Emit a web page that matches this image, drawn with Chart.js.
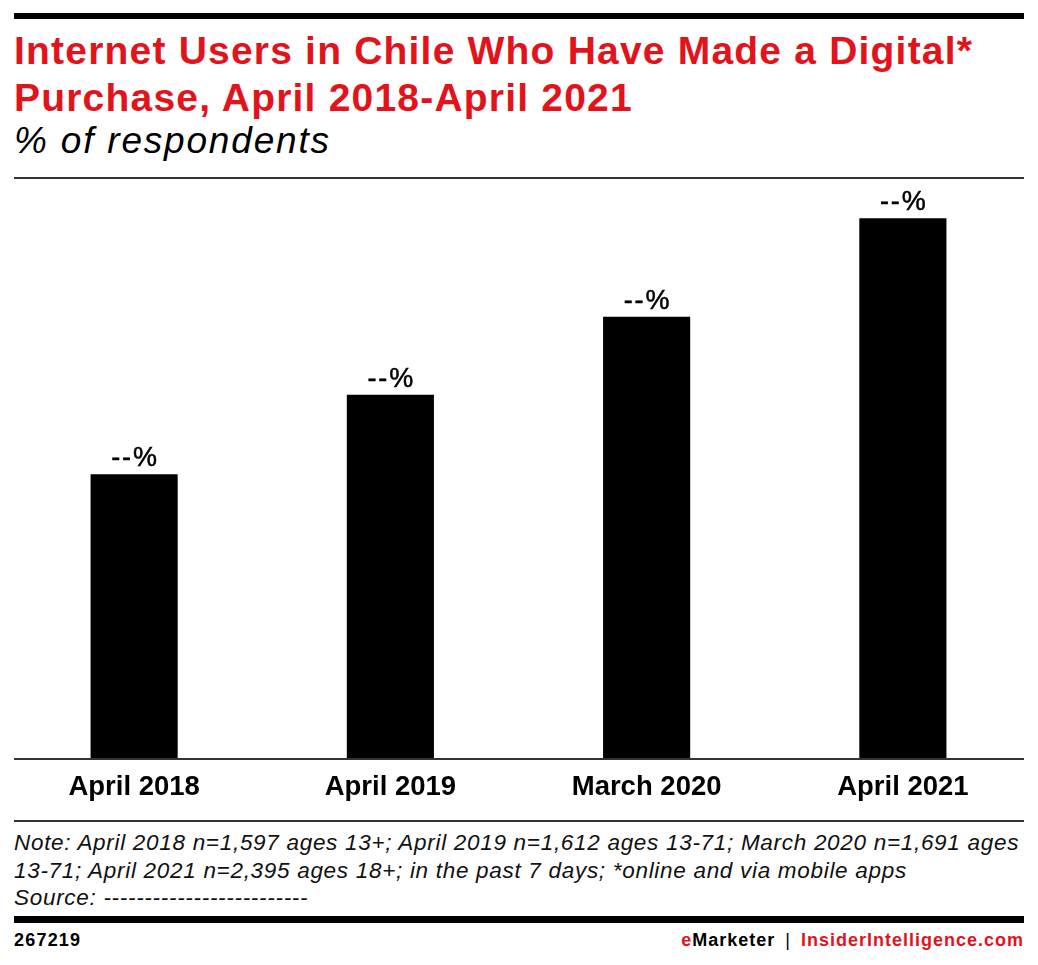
<!DOCTYPE html>
<html>
<head>
<meta charset="utf-8">
<script src="https://cdn.jsdelivr.net/npm/chart.js@4.4.1/dist/chart.umd.min.js"></script>
<style>
  html, body { margin: 0; padding: 0; background: #fff; }
  body { width: 1038px; height: 965px; position: relative; overflow: hidden;
         font-family: 'Liberation Sans', Arial, sans-serif; color: #000; }
  .rule { position: absolute; left: 14px; width: 1010px; background: #000; }
  #title { position: absolute; left: 14px; top: 27px; margin: 0; color: #e3131b;
           font-size: 39px; font-weight: bold; line-height: 47px; letter-spacing: 1.2px; white-space: nowrap; }
  #subtitle { position: absolute; left: 14px; top: 120px; font-size: 37px; font-style: italic;
              letter-spacing: 1.8px; white-space: nowrap; }
  #wrap { position: absolute; left: 0; top: 180px; width: 1038px; height: 640px; }
  #note { position: absolute; left: 14px; top: 829px; font-size: 22.5px; font-style: italic;
          line-height: 27.5px; letter-spacing: 0.7px; white-space: nowrap; color: #111; }
  #id { position: absolute; left: 14px; top: 930px; font-size: 18px; font-weight: bold; letter-spacing: 1.2px; }
  #brand { position: absolute; right: 14px; top: 930px; font-size: 18px; font-weight: bold;
           letter-spacing: 1px; white-space: nowrap; }
  #brand .red { color: #e3131b; }
  #brand .bar { font-weight: normal; margin: 0 10px; }
</style>
</head>
<body>
<div class="rule" style="top:13px;height:6px"></div>
<div id="title">Internet Users in Chile Who Have Made a Digital*<br>Purchase, April 2018-April 2021</div>
<div id="subtitle">% of respondents</div>
<div class="rule" style="top:177px;height:2px;background:#333"></div>
<div id="wrap"><canvas id="chart"></canvas></div>
<div class="rule" style="top:820px;height:2px;background:#333"></div>
<div id="note">Note: April 2018 n=1,597 ages 13+; April 2019 n=1,612 ages 13-71; March 2020 n=1,691 ages<br>13-71; April 2021 n=2,395 ages 18+; in the past 7 days; *online and via mobile apps<br>Source: -------------------------</div>
<div class="rule" style="top:916px;height:7px"></div>
<div id="id">267219</div>
<div id="brand"><span class="red">e</span>Marketer<span class="bar">|</span><span class="red">InsiderIntelligence.com</span></div>

<script>
'use strict';

// values are hidden in the source ("--%"); heights estimated from the bars
const periods = ['April 2018', 'April 2019', 'March 2020', 'April 2021'];
const shares  = [49.2, 62.9, 76.4, 93.4];
const barLabels = ['--%', '--%', '--%', '--%'];
const yMax = 100;

/* ── Plugins ─────────────────────────────────────────── */
const baseline = {
  id: 'baseline',
  afterDatasetsDraw(chart) {
    const { ctx, scales } = chart;
    const y = scales.y.getPixelForValue(0);
    ctx.save();
    ctx.strokeStyle = '#333';
    ctx.lineWidth = 2;
    ctx.beginPath();
    ctx.moveTo(14, y);
    ctx.lineTo(1024, y);
    ctx.stroke();
    ctx.restore();
  }
};

const valueLabels = {
  id: 'valueLabels',
  afterDatasetsDraw(chart) {
    const { ctx } = chart;
    const meta = chart.getDatasetMeta(0);
    ctx.save();
    ctx.font = '27px "Liberation Sans", Arial, sans-serif';
    ctx.letterSpacing = '2px';
    ctx.fillStyle = '#000';
    ctx.strokeStyle = '#000';
    ctx.lineWidth = 0.5;
    ctx.textAlign = 'center';
    ctx.textBaseline = 'alphabetic';
    meta.data.forEach((bar, i) => {
      ctx.fillText(barLabels[i], bar.x + 1, bar.y - 8);
      ctx.strokeText(barLabels[i], bar.x + 1, bar.y - 8);
    });
    ctx.restore();
  }
};

/* ── Chart ───────────────────────────────────────────── */
new Chart(document.getElementById('chart'), {
  type: 'bar',
  data: {
    labels: periods,
    datasets: [{
      data: shares,
      backgroundColor: '#000',
      borderWidth: 0,
      barPercentage: 0.34,
      categoryPercentage: 1,
    }]
  },
  options: {
    responsive: true,
    maintainAspectRatio: false,
    animation: false,
    layout: { padding: { left: 6, right: 7, top: 0, bottom: 0 } },
    plugins: { legend: { display: false }, tooltip: { enabled: false } },
    scales: {
      x: {
        grid: { display: false },
        border: { display: false },
        afterFit: s => { s.height = 61; },
        ticks: {
          color: '#000',
          padding: 4,
          font: { family: '"Liberation Sans", Arial, sans-serif', size: 27.5, weight: 'bold' }
        }
      },
      y: {
        display: false,
        min: 0,
        max: yMax,
      }
    }
  },
  plugins: [baseline, valueLabels]
});
</script>
</body>
</html>
